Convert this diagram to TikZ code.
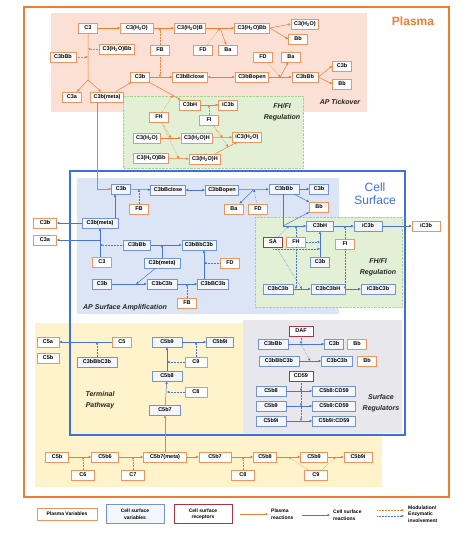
\documentclass[tikz,border=0pt]{standalone}
\usepackage{fontspec}
\setmainfont{Liberation Sans}
\usetikzlibrary{arrows.meta}
\definecolor{plasmaorange}{HTML}{ED7D31}
\definecolor{pborder}{HTML}{EE9460}
\definecolor{cellblue}{HTML}{3D6FE0}
\definecolor{sborder}{HTML}{7393D4}
\definecolor{sfill}{HTML}{F3F6FC}
\definecolor{rborder}{HTML}{A8344C}
\definecolor{sarrow}{HTML}{4A74D4}
\definecolor{pinkbg}{HTML}{FBE0D6}
\definecolor{greenbg}{HTML}{E2F0D6}
\definecolor{greenline}{HTML}{A9D18E}
\definecolor{bluebg}{HTML}{DCE5F6}
\definecolor{yellowbg}{HTML}{FFF3CC}
\definecolor{graybg}{HTML}{E8E7EC}
\begin{document}
\begin{tikzpicture}[x=1pt, y=-1pt, >={Triangle[length=2.4pt,width=2.2pt]},
	pvar/.style={draw=pborder, fill=white, line width=0.8pt, minimum width=19pt, minimum height=10pt, inner xsep=3pt, inner ysep=1pt},
	svar/.style={pvar, draw=sborder, fill=sfill},
	rvar/.style={pvar, draw=rborder, line width=0.9pt},
	preact/.style={->, plasmaorange, line width=0.5pt},
	sreact/.style={->, sarrow, line width=0.5pt},
	pmod/.style={preact, densely dotted},
	smod/.style={sreact, densely dotted},
	zone/.style={font=\bfseries\itshape\fontsize{7}{10.5}\selectfont, align=center, text=black!85}]
		\useasboundingbox (0, 0) rectangle (474, 536);
		\fill[pinkbg] (51, 13) rectangle (367, 112);
		\draw[greenline, densely dotted, fill=greenbg] (123, 96) rectangle (303, 168);
		\fill[yellowbg] (35, 323) rectangle (382, 487);
		\fill[bluebg] (77, 178) rectangle (339, 314);
		\draw[greenline, densely dotted, fill=greenbg] (255, 217) rectangle (402, 307);
		\fill[graybg] (243, 320) rectangle (402, 433);
		\draw[plasmaorange, line width=1.6pt] (24, 7) rectangle (449, 497);
		\draw[cellblue, line width=1.4pt] (70, 171) rectangle (405, 435);

		\node[text=plasmaorange, font=\bfseries\fontsize{12}{14}\selectfont] (102) at (413, 21) {Plasma};
		\node[text=cellblue, font=\fontsize{12}{13}\selectfont, align=center] (103) at (375, 194) {Cell\\Surface};
		\node[zone] (104) at (340, 102) {AP Tickover};
		\node[zone] (105) at (282, 112) {FH/FI\\Regulation};
		\node[zone] (106) at (125, 308) {AP Surface Amplification};
		\node[zone] (107) at (378, 267) {FH/FI\\Regulation};
		\node[zone] (108) at (100, 400) {Terminal\\Pathway};
		\node[zone] (109) at (381, 403) {Surface\\Regulators};

		\begin{scope}[every node/.append style={font=\bfseries\fontsize{5.5}{6}\selectfont}]
			\node[pvar] (0) at (88, 28) {C3};
			\node[pvar, minimum width=33pt] (1) at (137, 28) {C3(H\textsubscript{2}O)};
			\node[pvar] (2) at (190, 28) {C3(H\textsubscript{2}O)B};
			\node[pvar] (3) at (252, 28) {C3(H\textsubscript{2}O)Bb};
			\node[pvar] (4) at (305, 24) {C3(H\textsubscript{2}O)};
			\node[pvar] (5) at (298, 39) {Bb};
			\node[pvar] (6) at (117, 49) {C3(H\textsubscript{2}O)Bb};
			\node[pvar, minimum width=26pt] (7) at (63, 57) {C3bBb};
			\node[pvar] (8) at (160, 50) {FB};
			\node[pvar] (9) at (203, 50) {FD};
			\node[pvar] (10) at (228, 50) {Ba};
			\node[pvar] (11) at (140, 77) {C3b};
			\node[pvar] (12) at (190, 77) {C3bBclose};
			\node[pvar] (13) at (252, 77) {C3bBopen};
			\node[pvar] (14) at (263, 57) {FD};
			\node[pvar] (15) at (291, 57) {Ba};
			\node[pvar, minimum width=26pt] (16) at (305, 77) {C3bBb};
			\node[pvar] (17) at (342, 66) {C3b};
			\node[pvar] (18) at (342, 84) {Bb};
			\node[pvar] (19) at (72, 97) {C3a};
			\node[pvar] (20) at (107, 97) {C3b(meta)};

			\node[pvar] (21) at (190, 105) {C3bH};
			\node[pvar] (22) at (228, 105) {iC3b};
			\node[pvar] (23) at (159, 117) {FH};
			\node[pvar] (24) at (209, 120) {FI};
			\node[pvar] (25) at (147, 138) {C3(H\textsubscript{2}O)};
			\node[pvar] (26) at (197, 138) {C3(H\textsubscript{2}O)H};
			\node[pvar] (27) at (247, 137) {iC3(H\textsubscript{2}O)};
			\node[pvar] (28) at (151, 158) {C3(H\textsubscript{2}O)Bb};
			\node[pvar] (29) at (205, 159) {C3(H\textsubscript{2}O)H};

			\node[svar] (30) at (121, 189) {C3b};
			\node[svar] (31) at (168, 190) {C3bBclose};
			\node[pvar] (32) at (139, 209) {FB};
			\node[svar] (33) at (222, 190) {C3bBopen};
			\node[pvar] (34) at (234, 209) {Ba};
			\node[pvar] (35) at (258, 209) {FD};
			\node[svar, minimum width=30pt] (36) at (284, 189) {C3bBb};
			\node[svar] (37) at (319, 189) {C3b};
			\node[pvar] (38) at (319, 207) {Bb};
			\node[pvar, minimum width=23pt] (39) at (45, 223) {C3b};
			\node[svar, minimum width=36pt] (40) at (100, 223) {C3b(meta)};
			\node[pvar, minimum width=23pt] (41) at (45, 240) {C3a};
			\node[svar, minimum width=27pt] (42) at (320, 226) {C3bH};
			\node[svar, minimum width=28pt] (43) at (368, 226) {iC3b};
			\node[pvar, minimum width=28pt] (44) at (426, 226) {iC3b};
			\node[rvar] (45) at (273, 242) {SA};
			\node[pvar] (46) at (296, 242) {FH};
			\node[pvar] (47) at (345, 244) {FI};
			\node[svar] (48) at (320, 262) {C3b};
			\node[svar, minimum width=30pt] (49) at (278, 289) {C3bC3b};
			\node[svar, minimum width=34pt] (50) at (328, 289) {C3bC3bH};
			\node[svar, minimum width=34pt] (51) at (378, 289) {iC3bC3b};

			\node[svar, minimum width=27pt] (52) at (137, 245) {C3bBb};
			\node[svar] (53) at (199, 245) {C3bBbC3b};
			\node[pvar] (54) at (102, 262) {C3};
			\node[svar, minimum width=36pt] (55) at (162, 263) {C3b(meta)};
			\node[pvar] (56) at (230, 263) {FD};
			\node[svar] (57) at (102, 284) {C3b};
			\node[svar, minimum width=30pt] (58) at (162, 284) {C3bC3b};
			\node[svar, minimum width=31pt] (59) at (213, 284) {C3bBC3b};
			\node[pvar] (60) at (187, 303) {FB};

			\node[pvar, minimum width=22pt] (61) at (48, 342) {C5a};
			\node[pvar, minimum width=22pt] (62) at (48, 358) {C5b};
			\node[pvar] (63) at (122, 342) {C5};
			\node[svar, minimum width=40pt] (64) at (97, 362) {C3bBbC3b};
			\node[svar, minimum width=30pt] (65) at (167, 342) {C5b9};
			\node[svar, minimum width=27pt] (66) at (220, 342) {C5b9i};
			\node[pvar, minimum width=22pt] (67) at (196, 362) {C9};
			\node[svar, minimum width=30pt] (68) at (167, 376) {C5b8};
			\node[pvar, minimum width=22pt] (69) at (196, 392) {C8};
			\node[svar, minimum width=31pt] (70) at (165, 410) {C5b7};

			\node[pvar, minimum width=23pt] (71) at (57, 457) {C5b};
			\node[pvar, minimum width=27pt] (72) at (105, 457) {C5b6};
			\node[pvar, minimum width=23pt] (73) at (83, 475) {C6};
			\node[pvar, minimum width=43pt] (74) at (165, 457) {C5b7(meta)};
			\node[pvar, minimum width=23pt] (75) at (133, 475) {C7};
			\node[pvar, minimum width=32pt] (76) at (215, 457) {C5b7};
			\node[pvar, minimum width=23pt] (77) at (265, 457) {C5b8};
			\node[pvar, minimum width=27pt] (78) at (314, 457) {C5b9};
			\node[pvar, minimum width=28pt] (79) at (358, 457) {C5b9i};
			\node[pvar, minimum width=23pt] (80) at (243, 475) {C8};
			\node[pvar, minimum width=23pt] (81) at (316, 475) {C9};

			\node[rvar, minimum width=24pt] (82) at (301, 331) {DAF};
			\node[svar, minimum width=30pt] (83) at (273, 344) {C3bBb};
			\node[svar] (84) at (334, 344) {C3b};
			\node[pvar] (85) at (357, 344) {Bb};
			\node[svar, minimum width=40pt] (86) at (279, 361) {C3bBbC3b};
			\node[svar, minimum width=31pt] (87) at (337, 361) {C3bC3b};
			\node[pvar] (88) at (367, 361) {Bb};
			\node[rvar, minimum width=24pt] (89) at (301, 376) {CD59};
			\node[svar, minimum width=30pt] (90) at (271, 391) {C5b8};
			\node[svar, minimum width=43pt] (91) at (334, 391) {C5b8:CD59};
			\node[svar, minimum width=30pt] (92) at (271, 406) {C5b9};
			\node[svar, minimum width=43pt] (93) at (334, 406) {C5b9:CD59};
			\node[svar, minimum width=30pt] (94) at (271, 421) {C5b9i};
			\node[svar, minimum width=43pt] (95) at (334, 421) {C5b9i:CD59};
		\end{scope}

		\begin{scope}[every node/.append style={font=\bfseries\fontsize{5}{6.5}\selectfont}]
			\node[pvar, minimum width=60pt, minimum height=12pt] (96) at (67, 514) {Plasma Variables};
			\node[svar, minimum width=58pt, minimum height=19pt, align=center] (97) at (135, 514) {Cell surface\\variables};
			\node[rvar, minimum width=58pt, minimum height=19pt, align=center] (98) at (203, 514) {Cell surface\\receptors};
			\node[anchor=west, align=left, inner sep=1pt] (99) at (270, 514) {Plasma\\reactions};
			\node[anchor=west, align=left, inner sep=1pt] (100) at (332, 515) {Cell surface\\reactions};
			\node[anchor=west, align=left, inner sep=1pt] (101) at (407, 514) {Modulation/\\Enzymatic\\involvement};
		\end{scope}

		\coordinate (m3) at (88, 80);
		\draw[preact] (0) -- (1);
		\draw[preact] (1) -- coordinate (m1) (2);
		\draw[preact] (2) -- coordinate (m2) (3);
		\draw[preact] (m2) -- (10);
		\draw[preact] (3.east) -- (4.west);
		\draw[preact] (3.east) -- (5.west);
		\draw[preact] (0) -- (m3) -- (19);
		\draw[preact] (m3) -- (20);
		\draw[preact] (20) -- (11);
		\draw[preact] (11) -- coordinate (m4) (12);
		\draw[preact, <->] (12) -- (13);
		\draw[preact] (13) -- coordinate (m5) (16);
		\draw[preact] (m5) -- (15);
		\draw[preact] (16.east) -- (17.west);
		\draw[preact] (16.east) -- (18.west);
		\draw[preact] (11) -- coordinate[pos=0.75] (m6) (21);
		\draw[preact] (21) -- coordinate (m7) (22);
		\draw[preact] (25) -- coordinate (m8) (26);
		\draw[preact] (26) -- coordinate (m9) (27);
		\draw[preact] (28) -- coordinate (m10) (29);
		\draw[preact] (29) -- coordinate[pos=0.6] (m11) (27);
		\draw[pmod] (8) -- (8 |- m1);
		\draw[pmod] (8) -- (8 |- m4);
		\draw[pmod] (9) -- (m2);
		\draw[pmod] (14) -- (m5);
		\draw[pmod] (6) -- (6 -| m3);
		\draw[pmod] (7) -- (7 -| m3);
		\draw[pmod] (23) -- (m6);
		\draw[pmod] (24) -- (24 |- m7);
		\draw[pmod] (23) -- (m8);
		\draw[pmod] (23) -- (m10);
		\draw[pmod] (24) -- (m9);
		\draw[pmod] (24) -- (m11);

		\coordinate (m14) at (283, 226);
		\coordinate (m20) at (100, 240);
		\coordinate (m24) at (204, 284);
		\draw[preact] ([xshift=-10pt]20.south) |- (30);
		\draw[sreact] ([xshift=-6pt]30.south |- 40.north) -- ([xshift=-6pt]30.south);
		\draw[sreact] (30) -- coordinate (m12) (31);
		\draw[sreact, <->] (31) -- (33);
		\draw[sreact] (33) -- coordinate (m13) (36);
		\draw[sreact] (m13) -- (34);
		\draw[sreact] (36) -- (37);
		\draw[sreact] (36) -- (38);
		\draw[sreact] (36.south -| m14) -- (m14) -- (42);
		\draw[sreact] (m14) -- (38);
		\draw[sreact] (42) -- coordinate (m15) (43);
		\draw[sreact] (43) -- (44);
		\draw[sreact] (48) -- coordinate[pos=0.58] (m16) coordinate[pos=0.31] (m17) (42);
		\draw[sreact] (49) -- coordinate (m18) (50);
		\draw[sreact] (50) -- coordinate (m19) (51);
		\draw[sreact] (40) -- (39);
		\draw[sreact] (54.north -| m20) -- (40.south -| m20);
		\draw[sreact] (m20) -- (41);
		\draw[sreact] (52) -- coordinate (m21) (53);
		\draw[sreact] (55) -- (55 |- m21);
		\draw[sreact] (57) -- coordinate[pos=0.7] (m22) (58);
		\draw[sreact] (55) -- (m22);
		\draw[sreact] (58) -- coordinate (m23) (59);
		\draw[sreact] (59.north -| m24) -- coordinate (m25) (53.south -| m24);
		\draw[sreact] (63) -- (61);
		\draw[sreact] (70) -- (68);
		\draw[sreact] (68) -- (65);
		\draw[sreact] (65) -- (66);
		\draw[sreact] (83) -- coordinate (m26) (84);
		\draw[sreact] (86) -- coordinate (m27) (87);
		\draw[sreact] (90) -- coordinate (m28) (91);
		\draw[sreact] (92) -- coordinate (m29) (93);
		\draw[sreact] (94) -- coordinate (m30) (95);
		\draw[smod] (32) -- (32 |- m12);
		\draw[smod] (35) -- (m13);
		\draw[smod] (46) -- (46 |- m14);
		\draw[smod] (45) -- ([xshift=6pt]m14);
		\draw[smod] (47) -- (47 |- m15);
		\draw[smod] (46) -- (46 -| m16);
		\draw[smod] (45.south) |- (m17);
		\draw[smod] (45) -- (m18);
		\draw[smod] (46) -- (46 |- m18);
		\draw[smod] (47) -- (47 |- m19);
		\draw[smod] (52) -- (52 -| m20);
		\draw[smod] (60) -- (60 |- m23);
		\draw[smod] (56) -- (56 -| m25);
		\draw[smod] (64) -- (64 |- 61);
		\draw[smod] (69) -- (69 -| 68);
		\draw[smod] (67) -- (67 -| 65);
		\draw[smod] (67) -- (67 |- 66);
		\draw[smod] (82) -- (82 |- m26);
		\draw[smod] (82 |- m26) -- (m27);
		\draw[smod] (89) -- (89 |- m28);
		\draw[smod] (89) -- (89 |- m29);
		\draw[smod] (89) -- (89 |- m30);

		\draw[preact] (71) -- coordinate (m31) (72);
		\draw[preact] (72) -- coordinate (m32) (74);
		\draw[preact] (74) -- (76);
		\draw[preact] (74) -- (70);
		\draw[preact] (76) -- coordinate (m33) (77);
		\draw[preact] (77) -- coordinate (m34) (78);
		\draw[preact] (78) -- coordinate (m35) (79);
		\draw[pmod] (73) -- (73 |- m31);
		\draw[pmod] (75) -- (75 |- m32);
		\draw[pmod] (80) -- (80 |- m33);
		\draw[pmod] (81) -- (m34);
		\draw[pmod] (81) -- (m35);

		\draw[preact] ([xshift=-30pt]99.west) -- ([xshift=-2pt]99.west);
		\draw[sreact] ([xshift=-30pt]100.west) -- ([xshift=-2pt]100.west);
		\draw[pmod] ([xshift=-30pt, yshift=4pt]101.west) -- ([xshift=-3pt, yshift=4pt]101.west);
		\draw[smod] ([xshift=-30pt, yshift=-2pt]101.west) -- ([xshift=-3pt, yshift=-2pt]101.west);
	\end{tikzpicture}
\end{document}
